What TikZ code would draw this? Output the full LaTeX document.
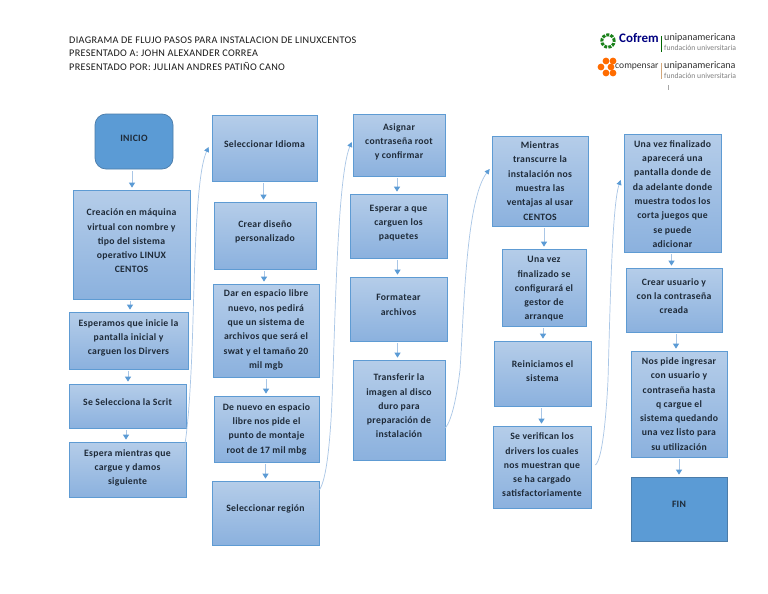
\documentclass[tikz,border=0pt]{standalone}
\usepackage{fontspec}
\setmainfont{Carlito}
\newfontfamily\spacedfont[LetterSpace=3]{Carlito}
\usetikzlibrary{arrows.meta,calc}
\definecolor{boxtop}{HTML}{B5CDE9}
\definecolor{boxbot}{HTML}{8BB1DE}
\definecolor{boxline}{HTML}{5E9BD3}
\definecolor{solid}{HTML}{5B9BD5}
\definecolor{inktext}{HTML}{1E2A38}
\definecolor{conn}{HTML}{A9C6E6}
\definecolor{head}{HTML}{5B9BD5}
\tikzset{
  stepbox/.style={draw=boxline,line width=.7pt,top color=boxtop,bottom color=boxbot,inner sep=0pt},
  solidbox/.style={draw=boxline!80!black,line width=.7pt,fill=solid,inner sep=0pt},
  roundbox/.style={solidbox,rounded corners=11pt},
  steptext/.style={align=center,inner sep=0pt,text=inktext,font=\fontsize{9.7}{14.3}\spacedfont\bfseries},
  titletext/.style={anchor=west,inner sep=0pt,text=black!90,font=\fontsize{10.2}{12}\spacedfont},
  flow/.style={draw=conn,line width=.9pt,-{Triangle[length=5pt,width=6pt,fill=head,color=head]}},
  curved/.style={draw=conn,line width=.7pt,-{Triangle[length=5pt,width=5pt,fill=head,color=head]}},
  logoa/.style={inner sep=0pt,anchor=west,text=black!80},
}
% name, left, top, right, bottom, style, text y, text
\newcommand{\bx}[8]{%
  \node[#6,minimum width=#4pt-#2pt,minimum height=#5pt-#3pt] (#1) at ({(#2+#4)/2},{(#3+#5)/2}) {};
  \node[steptext] at ({(#2+#4)/2},#7+1) {#8};
}
\begin{document}
\begin{tikzpicture}[x=1pt,y=-1pt]
\useasboundingbox (0,0) rectangle (768,594);
\fill[white] (0,0) rectangle (768,594);
% titles
\node[titletext] (t1) at (69,40.5) {DIAGRAMA DE FLUJO PASOS PARA INSTALACION DE LINUXCENTOS};
\node[titletext] (t2) at (69,53.5) {PRESENTADO A: JOHN ALEXANDER CORREA};
\node[titletext] (t3) at (69,66.5) {PRESENTADO POR: JULIAN ANDRES PATIÑO CANO};
% logos
\draw[draw=green!45!black!90,line width=3pt,dash pattern=on 3pt off 1.2pt] (608,41) circle (6.2pt);
\fill[white] (608,41) circle (2pt);
\node[logoa,text=blue!50!black,font=\fontsize{13}{12}\selectfont\bfseries] (lc) at (619,38.5) {Cofrem};
\draw[green!40!black,line width=.6pt] (661,36) -- (661,52);
\node[logoa,font=\fontsize{10.1}{12}\selectfont] (u1) at (664,38) {unipanamericana};
\node[logoa,text=black!50,font=\fontsize{7.7}{12}\selectfont] (f1) at (664,48) {fundación universitaria};
\foreach \a/\b in {601/67,606/61,613/61,606/73,613/73,611/67}{\fill[orange!85!red] (\a,\b) circle (3.4pt);}
\node[logoa,font=\fontsize{9.6}{12}\selectfont] (lk) at (615,67) {compensar};
\draw[brown!70,line width=.6pt] (661,63) -- (661,79);
\node[logoa,font=\fontsize{10.1}{12}\selectfont] (u2) at (664,66) {unipanamericana};
\node[logoa,text=black!50,font=\fontsize{7.7}{12}\selectfont] (f2) at (664,76) {fundación universitaria};
\draw[black!35,line width=.5pt] (668,85) -- (668,90);
% column 1
\bx{inicio}{95}{114}{173}{169}{roundbox}{137}{INICIO}
\bx{crea}{73}{190}{190}{299}{stepbox}{240}{Creación en máquina\\virtual con nombre y\\tipo del sistema\\operativo LINUX\\CENTOS}
\bx{espe}{69}{312}{188}{369}{stepbox}{337}{Esperamos que inicie la\\pantalla inicial y\\carguen los Dirvers}
\bx{scrit}{69}{384}{186}{428}{stepbox}{401}{Se Selecciona la Scrit}
\bx{sig}{69}{442}{186}{497}{stepbox}{467}{Espera mientras que\\cargue y damos\\siguiente}
% column 2
\bx{idi}{212}{115}{317}{181}{stepbox}{143}{Seleccionar Idioma}
\bx{dis}{214}{202}{316}{269}{stepbox}{231}{Crear diseño\\personalizado}
\bx{dar}{213}{284}{319}{377}{stepbox}{329}{Dar en espacio libre\\nuevo, nos pedirá\\que un sistema de\\archivos que será el\\swat y el tamaño 20\\mil mgb}
\bx{nue}{214}{396}{319}{462}{stepbox}{428}{De nuevo en espacio\\libre nos pide el\\punto de montaje\\root de 17 mil mbg}
\bx{reg}{212}{481}{319}{545}{stepbox}{508}{Seleccionar región}
% column 3
\bx{asi}{353}{114}{445}{176}{stepbox}{141}{Asignar\\contraseña root\\y confirmar}
\bx{paq}{350}{194}{447}{258}{stepbox}{222}{Esperar a que\\carguen los\\paquetes}
\bx{arc}{350}{277}{447}{341}{stepbox}{304}{Formatear\\archivos}
\bx{tra}{353}{360}{445}{460}{stepbox}{405}{Transferir la\\imagen al disco\\duro para\\preparación de\\instalación}
% column 4
\bx{mie}{492}{136}{588}{226}{stepbox}{180}{Mientras\\transcurre la\\instalación nos\\muestra las\\ventajas al usar\\CENTOS}
\bx{una}{502}{249}{586}{326}{stepbox}{288}{Una vez\\finalizado se\\configurará el\\gestor de\\arranque}
\bx{rei}{494}{341}{591}{406}{stepbox}{370}{Reiniciamos el\\sistema}
\bx{ver}{493}{426}{591}{508}{stepbox}{464}{Se verifican los\\drivers los cuales\\nos muestran que\\se ha cargado\\satisfactoriamente}
% column 5
\bx{fin1}{624}{134}{721}{252}{stepbox}{193}{Una vez finalizado\\aparecerá una\\pantalla donde de\\da adelante donde\\muestra todos los\\corta juegos que\\se puede\\adicionar}
\bx{usu}{626}{268}{722}{332}{stepbox}{295}{Crear usuario y\\con la contraseña\\creada}
\bx{nos}{631}{351}{727}{457}{stepbox}{403}{Nos pide ingresar\\con usuario y\\contraseña hasta\\q cargue el\\sistema quedando\\una vez listo para\\su utilización}
\bx{fin}{631}{477}{727}{541}{solidbox}{503}{FIN}
% straight connectors
\newcommand{\arr}[3]{\draw[flow] ([xshift=#3pt,yshift=-2pt]#1.south) -- ([xshift=#3pt,yshift=2pt]#1.south |- #2.north);}
\arr{inicio}{crea}{-2}
\arr{crea}{espe}{-1.5}
\arr{espe}{scrit}{-0.5}
\arr{scrit}{sig}{-1.5}
\arr{idi}{dis}{-1}
\arr{dis}{dar}{-1}
\arr{dar}{nue}{0}
\arr{nue}{reg}{-1}
\arr{asi}{paq}{-2}
\arr{paq}{arc}{-1}
\arr{arc}{tra}{-1}
\arr{mie}{una}{4}
\arr{una}{rei}{-1}
\arr{rei}{ver}{-1}
\arr{fin1}{usu}{-1}
\arr{usu}{nos}{2}
\arr{nos}{fin}{0}
% curved connectors
\coordinate (c1) at ([xshift=-6pt,yshift=7pt]sig.east);
\coordinate (c2) at ([yshift=23pt]reg.east);
\coordinate (c3) at (tra.east |- 0,428);
\coordinate (c4) at ([xshift=4pt,yshift=2pt]ver.east);
\draw[curved] (c1) .. controls (187,450) and (191,390) .. (193,320) .. controls (195,250) and (197,172) .. ([xshift=-3pt,yshift=1pt]idi.west);
\draw[curved] (c2) .. controls (326,480) and (329,450) .. (331,420) .. controls (335,350) and (336,180) .. ([xshift=-1pt,yshift=3pt]asi.west);
\draw[curved] (c3) .. controls (452,420) and (457,395) .. (460,370) .. controls (464,310) and (466,200) .. ([xshift=-2pt,yshift=12pt]mie.west);
\draw[curved] (c4) .. controls (602,460) and (606,420) .. (608,380) .. controls (610,310) and (612,205) .. ([xshift=-3pt,yshift=13pt]fin1.west);
\end{tikzpicture}
\end{document}
